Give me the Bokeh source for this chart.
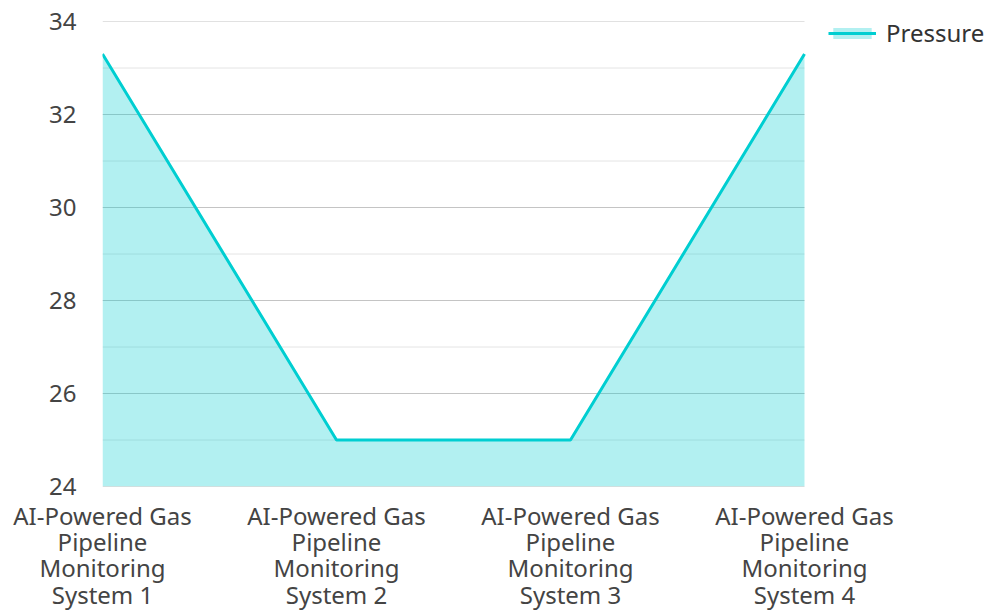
import textwrap
from bokeh.plotting import figure
from bokeh.models import ColumnDataSource, Legend, LegendItem, FixedTicker, Range1d
from bokeh.embed import file_html
from bokeh.resources import INLINE

# ---- data ----
categories = [
    "AI-Powered Gas Pipeline Monitoring System 1",
    "AI-Powered Gas Pipeline Monitoring System 2",
    "AI-Powered Gas Pipeline Monitoring System 3",
    "AI-Powered Gas Pipeline Monitoring System 4",
]
pressure = [33.3, 25.0, 25.0, 33.3]
series_name = "Pressure"
y_ticks = [24, 26, 28, 30, 32, 34]
y_minor_ticks = [25, 27, 29, 31, 33]
y_min, y_max = 24, 34

FONT = "Noto Sans"
TEAL = "#00CED1"

# ---- layout constants ----
W, H = 993, 613
LEFT, TOP, RIGHT = 102, 21, 0
PLOT_W = 702  # pixel width of the data area (categories span)
frame_w = W - LEFT - RIGHT

x = list(range(len(categories)))
n_last = len(categories) - 1
x_end = n_last * frame_w / PLOT_W

src = ColumnDataSource(dict(x=x, y=pressure, base=[y_min] * len(x)))
grid_major = ColumnDataSource(dict(y=y_ticks, x0=[0] * len(y_ticks), x1=[n_last] * len(y_ticks)))
grid_minor = ColumnDataSource(dict(y=y_minor_ticks, x0=[0] * len(y_minor_ticks), x1=[n_last] * len(y_minor_ticks)))

p = figure(
    width=W, height=H,
    output_backend="svg", toolbar_location=None,
    x_range=Range1d(0, x_end),
    y_range=Range1d(y_min, y_max),
    min_border_left=LEFT, min_border_right=RIGHT, min_border_top=TOP,
)
p.outline_line_color = None
p.background_fill_color = "white"
p.border_fill_color = "white"
p.xgrid.grid_line_color = None
p.ygrid.grid_line_color = None

# grid lines limited to the category span
p.segment(x0="x0", x1="x1", y0="y", y1="y", source=grid_minor, line_color="#e4e4e4", line_width=1)
p.segment(x0="x0", x1="x1", y0="y", y1="y", source=grid_major, line_color="#c4c4c4", line_width=1)

area = p.varea(x="x", y1="base", y2="y", source=src, fill_color=TEAL, fill_alpha=0.3)
line = p.line(x="x", y="y", source=src, line_color=TEAL, line_width=3)

# y axis
p.yaxis.ticker = FixedTicker(ticks=y_ticks)
p.yaxis.axis_line_color = None
p.yaxis.major_tick_line_color = None
p.yaxis.minor_tick_line_color = None
p.yaxis.major_label_text_font = FONT
p.yaxis.major_label_text_font_size = "24px"
p.yaxis.major_label_text_color = "#444444"
p.yaxis.major_label_standoff = 20

# x axis
p.xaxis.ticker = FixedTicker(ticks=x)
p.xaxis.major_label_overrides = {
    i: textwrap.fill(c, 14, break_on_hyphens=False) for i, c in zip(x, categories)
}
p.xaxis.axis_line_color = None
p.xaxis.major_tick_line_color = None
p.xaxis.minor_tick_line_color = None
p.xaxis.major_label_text_font = FONT
p.xaxis.major_label_text_font_size = "24px"
p.xaxis.major_label_text_color = "#444444"
p.xaxis.major_label_text_line_height = 0.8
p.xaxis.major_label_standoff = 6

legend = Legend(
    items=[LegendItem(label=series_name, renderers=[area, line])],
    location=(726, 437),
    border_line_color=None,
    background_fill_alpha=0,
    padding=6, margin=0,
    glyph_width=48, glyph_height=14,
    label_standoff=10,
    label_text_font=FONT,
    label_text_font_size="24px",
    label_text_color="#333333",
)
p.add_layout(legend)

open("out.html", "w").write(file_html(p, INLINE))
